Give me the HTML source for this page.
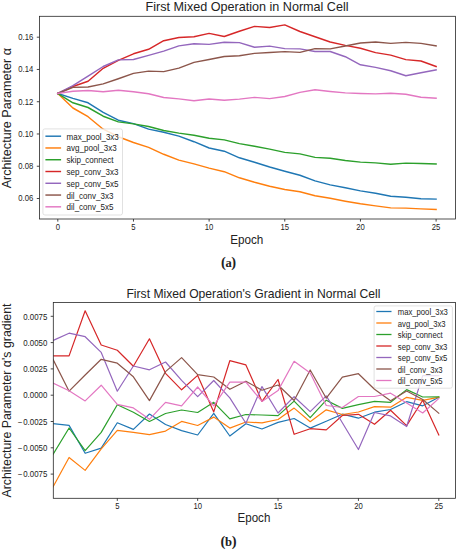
<!DOCTYPE html><html><head><meta charset="utf-8"><style>html,body{margin:0;padding:0;background:#fff;width:460px;height:550px;overflow:hidden}svg{display:block}text{font-family:"Liberation Sans",sans-serif;fill:#222}</style></head><body>
<svg width="460" height="550" viewBox="0 0 460 550">
<rect width="460" height="550" fill="#fff"/>
<defs><clipPath id="ca"><rect x="39.4" y="16.3" width="416.0" height="202.7"/></clipPath><clipPath id="cb"><rect x="53.3" y="302.4" width="402.09999999999997" height="195.90000000000003"/></clipPath></defs>
<g clip-path="url(#ca)">
<polyline points="57.80,93.50 72.93,98.40 88.06,102.80 103.20,112.30 118.33,120.20 133.46,123.60 148.59,129.10 163.72,132.30 178.86,136.10 193.99,141.70 209.12,148.00 224.25,151.20 239.38,157.80 254.52,162.20 269.65,167.00 284.78,171.20 299.91,175.30 315.04,180.90 330.18,184.90 345.31,187.80 360.44,190.90 375.57,193.20 390.70,196.30 405.84,197.30 420.97,198.70 436.10,199.10" fill="none" stroke="#1f77b4" stroke-width="1.45" stroke-linejoin="round" stroke-linecap="square"/>
<polyline points="57.80,93.50 72.93,108.00 88.06,116.70 103.20,129.20 118.33,136.70 133.46,142.50 148.59,147.40 163.72,154.30 178.86,160.10 193.99,163.90 209.12,168.10 224.25,171.70 239.38,177.80 254.52,182.20 269.65,186.20 284.78,189.50 299.91,191.70 315.04,195.70 330.18,198.30 345.31,201.20 360.44,203.80 375.57,205.90 390.70,207.90 405.84,208.10 420.97,208.90 436.10,209.50" fill="none" stroke="#ff7f0e" stroke-width="1.45" stroke-linejoin="round" stroke-linecap="square"/>
<polyline points="57.80,93.50 72.93,102.80 88.06,107.50 103.20,116.20 118.33,121.90 133.46,123.90 148.59,126.50 163.72,130.50 178.86,133.10 193.99,135.20 209.12,138.30 224.25,139.90 239.38,143.60 254.52,146.20 269.65,149.10 284.78,152.40 299.91,153.90 315.04,157.40 330.18,158.30 345.31,160.50 360.44,162.10 375.57,162.90 390.70,164.30 405.84,163.10 420.97,163.50 436.10,163.90" fill="none" stroke="#2ca02c" stroke-width="1.45" stroke-linejoin="round" stroke-linecap="square"/>
<polyline points="57.80,93.50 72.93,86.50 88.06,81.30 103.20,68.30 118.33,60.40 133.46,53.80 148.59,49.30 163.72,40.70 178.86,37.50 193.99,36.80 209.12,33.40 224.25,36.50 239.38,31.30 254.52,26.40 269.65,27.50 284.78,24.90 299.91,31.50 315.04,36.70 330.18,42.00 345.31,45.40 360.44,48.20 375.57,52.60 390.70,55.10 405.84,59.60 420.97,61.00 436.10,66.50" fill="none" stroke="#d62728" stroke-width="1.45" stroke-linejoin="round" stroke-linecap="square"/>
<polyline points="57.80,93.50 72.93,85.70 88.06,76.10 103.20,66.50 118.33,59.90 133.46,59.50 148.59,55.40 163.72,51.10 178.86,45.90 193.99,43.80 209.12,44.40 224.25,42.30 239.38,42.60 254.52,47.30 269.65,46.10 284.78,48.60 299.91,48.90 315.04,51.50 330.18,51.50 345.31,56.70 360.44,64.80 375.57,67.40 390.70,70.80 405.84,75.70 420.97,72.70 436.10,69.80" fill="none" stroke="#9467bd" stroke-width="1.45" stroke-linejoin="round" stroke-linecap="square"/>
<polyline points="57.80,93.50 72.93,87.40 88.06,87.00 103.20,83.90 118.33,78.70 133.46,73.40 148.59,71.10 163.72,71.60 178.86,68.10 193.99,62.40 209.12,59.50 224.25,56.50 239.38,55.70 254.52,53.40 269.65,52.50 284.78,51.60 299.91,52.40 315.04,48.60 330.18,48.90 345.31,46.00 360.44,43.00 375.57,42.00 390.70,43.40 405.84,42.40 420.97,43.40 436.10,45.90" fill="none" stroke="#8c564b" stroke-width="1.45" stroke-linejoin="round" stroke-linecap="square"/>
<polyline points="57.80,93.50 72.93,91.20 88.06,90.50 103.20,91.70 118.33,90.30 133.46,91.80 148.59,93.70 163.72,97.50 178.86,98.90 193.99,100.70 209.12,99.00 224.25,100.30 239.38,99.10 254.52,97.40 269.65,98.60 284.78,96.50 299.91,92.40 315.04,89.80 330.18,91.50 345.31,92.90 360.44,93.50 375.57,93.90 390.70,93.30 405.84,94.20 420.97,97.20 436.10,98.20" fill="none" stroke="#e377c2" stroke-width="1.45" stroke-linejoin="round" stroke-linecap="square"/>
</g>
<rect x="39.4" y="16.3" width="416.0" height="202.7" fill="none" stroke="#262626" stroke-width="0.8"/>
<line x1="57.80" y1="219.0" x2="57.80" y2="221.6" stroke="#262626" stroke-width="0.85"/>
<text transform="translate(57.80,229.80) scale(0.893,1)" font-size="8.62" text-anchor="middle">0</text>
<line x1="133.46" y1="219.0" x2="133.46" y2="221.6" stroke="#262626" stroke-width="0.85"/>
<text transform="translate(133.46,229.80) scale(0.893,1)" font-size="8.62" text-anchor="middle">5</text>
<line x1="209.12" y1="219.0" x2="209.12" y2="221.6" stroke="#262626" stroke-width="0.85"/>
<text transform="translate(209.12,229.80) scale(0.893,1)" font-size="8.62" text-anchor="middle">10</text>
<line x1="284.78" y1="219.0" x2="284.78" y2="221.6" stroke="#262626" stroke-width="0.85"/>
<text transform="translate(284.78,229.80) scale(0.893,1)" font-size="8.62" text-anchor="middle">15</text>
<line x1="360.44" y1="219.0" x2="360.44" y2="221.6" stroke="#262626" stroke-width="0.85"/>
<text transform="translate(360.44,229.80) scale(0.893,1)" font-size="8.62" text-anchor="middle">20</text>
<line x1="436.10" y1="219.0" x2="436.10" y2="221.6" stroke="#262626" stroke-width="0.85"/>
<text transform="translate(436.10,229.80) scale(0.893,1)" font-size="8.62" text-anchor="middle">25</text>
<line x1="36.8" y1="37.20" x2="39.4" y2="37.20" stroke="#262626" stroke-width="0.85"/>
<text transform="translate(33.30,40.10) scale(0.893,1)" font-size="8.62" text-anchor="end">0.16</text>
<line x1="36.8" y1="69.46" x2="39.4" y2="69.46" stroke="#262626" stroke-width="0.85"/>
<text transform="translate(33.30,72.36) scale(0.893,1)" font-size="8.62" text-anchor="end">0.14</text>
<line x1="36.8" y1="101.72" x2="39.4" y2="101.72" stroke="#262626" stroke-width="0.85"/>
<text transform="translate(33.30,104.62) scale(0.893,1)" font-size="8.62" text-anchor="end">0.12</text>
<line x1="36.8" y1="133.98" x2="39.4" y2="133.98" stroke="#262626" stroke-width="0.85"/>
<text transform="translate(33.30,136.88) scale(0.893,1)" font-size="8.62" text-anchor="end">0.10</text>
<line x1="36.8" y1="166.24" x2="39.4" y2="166.24" stroke="#262626" stroke-width="0.85"/>
<text transform="translate(33.30,169.14) scale(0.893,1)" font-size="8.62" text-anchor="end">0.08</text>
<line x1="36.8" y1="198.50" x2="39.4" y2="198.50" stroke="#262626" stroke-width="0.85"/>
<text transform="translate(33.30,201.40) scale(0.893,1)" font-size="8.62" text-anchor="end">0.06</text>
<text x="247.1" y="11.1" font-size="12.6" text-anchor="middle">First Mixed Operation in Normal Cell</text>
<text transform="translate(11.4,118.2) rotate(-90)" font-size="12.6" text-anchor="middle">Architecture Parameter α</text>
<text transform="translate(246.70,243.50) scale(0.9,1)" font-size="13.0" text-anchor="middle">Epoch</text>
<text x="228.6" y="266.9" font-size="12.5" text-anchor="middle" style="font-family:'Liberation Serif',serif;font-weight:bold"><tspan font-size="14.5">(</tspan><tspan dx="-0.4">a</tspan><tspan font-size="14.5" dx="-0.4">)</tspan></text>
<rect x="42.9" y="128.9" width="79.6" height="86.1" rx="2" ry="2" fill="#fff" fill-opacity="0.8" stroke="#d9d9d9" stroke-width="0.8"/>
<line x1="45.4" y1="136.20" x2="61.1" y2="136.20" stroke="#1f77b4" stroke-width="1.45"/>
<text transform="translate(66.60,139.70) scale(0.97,1)" font-size="8.3">max_pool_3x3</text>
<line x1="45.4" y1="147.97" x2="61.1" y2="147.97" stroke="#ff7f0e" stroke-width="1.45"/>
<text transform="translate(66.60,151.47) scale(0.97,1)" font-size="8.3">avg_pool_3x3</text>
<line x1="45.4" y1="159.74" x2="61.1" y2="159.74" stroke="#2ca02c" stroke-width="1.45"/>
<text transform="translate(66.60,163.24) scale(0.97,1)" font-size="8.3">skip_connect</text>
<line x1="45.4" y1="171.51" x2="61.1" y2="171.51" stroke="#d62728" stroke-width="1.45"/>
<text transform="translate(66.60,175.01) scale(0.97,1)" font-size="8.3">sep_conv_3x3</text>
<line x1="45.4" y1="183.28" x2="61.1" y2="183.28" stroke="#9467bd" stroke-width="1.45"/>
<text transform="translate(66.60,186.78) scale(0.97,1)" font-size="8.3">sep_conv_5x5</text>
<line x1="45.4" y1="195.05" x2="61.1" y2="195.05" stroke="#8c564b" stroke-width="1.45"/>
<text transform="translate(66.60,198.55) scale(0.97,1)" font-size="8.3">dil_conv_3x3</text>
<line x1="45.4" y1="206.82" x2="61.1" y2="206.82" stroke="#e377c2" stroke-width="1.45"/>
<text transform="translate(66.60,210.32) scale(0.97,1)" font-size="8.3">dil_conv_5x5</text>
<g clip-path="url(#cb)">
<polyline points="53.00,423.60 69.08,425.40 85.15,453.30 101.22,448.10 117.30,422.80 133.38,429.40 149.45,414.00 165.52,424.50 181.60,430.60 197.67,435.00 213.75,413.30 229.82,436.00 245.90,423.80 261.98,429.00 278.05,422.40 294.12,418.50 310.20,428.10 326.27,421.20 342.35,414.20 358.43,418.20 374.50,412.20 390.57,409.50 406.65,401.70 422.72,405.80 438.80,397.30" fill="none" stroke="#1f77b4" stroke-width="1.2" stroke-linejoin="round" stroke-linecap="square"/>
<polyline points="53.00,487.00 69.08,457.50 85.15,470.40 101.22,448.90 117.30,430.30 133.38,432.40 149.45,434.60 165.52,431.10 181.60,421.40 197.67,425.50 213.75,417.10 229.82,428.10 245.90,422.00 261.98,422.90 278.05,419.50 294.12,408.10 310.20,421.70 326.27,409.80 342.35,414.50 358.43,412.00 374.50,406.60 390.57,407.20 406.65,397.30 422.72,400.30 438.80,397.30" fill="none" stroke="#ff7f0e" stroke-width="1.2" stroke-linejoin="round" stroke-linecap="square"/>
<polyline points="53.00,454.50 69.08,428.00 85.15,450.70 101.22,432.40 117.30,404.80 133.38,412.30 149.45,421.50 165.52,413.50 181.60,410.00 197.67,412.50 213.75,402.30 229.82,418.90 245.90,414.50 261.98,415.00 278.05,415.60 294.12,401.10 310.20,417.70 326.27,400.20 342.35,408.40 358.43,404.70 374.50,401.40 390.57,402.30 406.65,389.60 422.72,397.00 438.80,396.80" fill="none" stroke="#2ca02c" stroke-width="1.2" stroke-linejoin="round" stroke-linecap="square"/>
<polyline points="53.00,355.90 69.08,355.90 85.15,310.80 101.22,345.00 117.30,350.30 133.38,366.30 149.45,338.80 165.52,373.30 181.60,389.80 197.67,375.40 213.75,411.90 229.82,360.70 245.90,364.90 261.98,401.40 278.05,379.50 294.12,434.30 310.20,428.70 326.27,429.90 342.35,415.50 358.43,414.30 374.50,424.30 390.57,410.30 406.65,425.60 422.72,400.30 438.80,435.00" fill="none" stroke="#d62728" stroke-width="1.2" stroke-linejoin="round" stroke-linecap="square"/>
<polyline points="53.00,340.50 69.08,333.20 85.15,336.70 101.22,352.40 117.30,391.20 133.38,366.00 149.45,369.80 165.52,362.00 181.60,380.30 197.67,396.70 213.75,380.50 229.82,397.90 245.90,423.20 261.98,386.60 278.05,413.00 294.12,396.70 310.20,411.60 326.27,395.90 342.35,422.70 358.43,449.50 374.50,412.50 390.57,415.90 406.65,426.50 422.72,375.60 438.80,375.60" fill="none" stroke="#9467bd" stroke-width="1.2" stroke-linejoin="round" stroke-linecap="square"/>
<polyline points="53.00,359.30 69.08,391.20 85.15,375.00 101.22,359.30 117.30,363.20 133.38,376.80 149.45,400.60 165.52,371.60 181.60,357.60 197.67,374.70 213.75,377.00 229.82,389.30 245.90,381.20 261.98,390.20 278.05,385.00 294.12,400.50 310.20,370.00 326.27,398.20 342.35,377.10 358.43,373.70 374.50,389.30 390.57,400.80 406.65,391.00 422.72,399.50 438.80,413.20" fill="none" stroke="#8c564b" stroke-width="1.2" stroke-linejoin="round" stroke-linecap="square"/>
<polyline points="53.00,383.00 69.08,390.80 85.15,400.90 101.22,385.20 117.30,404.40 133.38,407.90 149.45,419.30 165.52,402.30 181.60,405.80 197.67,387.00 213.75,405.80 229.82,382.20 245.90,382.20 261.98,401.40 278.05,390.60 294.12,361.30 310.20,373.00 326.27,405.50 342.35,407.50 358.43,396.50 374.50,396.50 390.57,393.20 406.65,403.00 422.72,413.00 438.80,398.50" fill="none" stroke="#e377c2" stroke-width="1.2" stroke-linejoin="round" stroke-linecap="square"/>
</g>
<rect x="53.3" y="302.4" width="402.09999999999997" height="195.90000000000003" fill="none" stroke="#262626" stroke-width="0.8"/>
<line x1="117.30" y1="498.3" x2="117.30" y2="500.90000000000003" stroke="#262626" stroke-width="0.85"/>
<text transform="translate(117.30,509.20) scale(0.893,1)" font-size="8.62" text-anchor="middle">5</text>
<line x1="197.67" y1="498.3" x2="197.67" y2="500.90000000000003" stroke="#262626" stroke-width="0.85"/>
<text transform="translate(197.67,509.20) scale(0.893,1)" font-size="8.62" text-anchor="middle">10</text>
<line x1="278.05" y1="498.3" x2="278.05" y2="500.90000000000003" stroke="#262626" stroke-width="0.85"/>
<text transform="translate(278.05,509.20) scale(0.893,1)" font-size="8.62" text-anchor="middle">15</text>
<line x1="358.43" y1="498.3" x2="358.43" y2="500.90000000000003" stroke="#262626" stroke-width="0.85"/>
<text transform="translate(358.43,509.20) scale(0.893,1)" font-size="8.62" text-anchor="middle">20</text>
<line x1="438.80" y1="498.3" x2="438.80" y2="500.90000000000003" stroke="#262626" stroke-width="0.85"/>
<text transform="translate(438.80,509.20) scale(0.893,1)" font-size="8.62" text-anchor="middle">25</text>
<line x1="50.699999999999996" y1="316.30" x2="53.3" y2="316.30" stroke="#262626" stroke-width="0.85"/>
<text transform="translate(47.30,319.50) scale(0.893,1)" font-size="8.85" text-anchor="end">0.0075</text>
<line x1="50.699999999999996" y1="342.60" x2="53.3" y2="342.60" stroke="#262626" stroke-width="0.85"/>
<text transform="translate(47.30,345.80) scale(0.893,1)" font-size="8.85" text-anchor="end">0.0050</text>
<line x1="50.699999999999996" y1="368.90" x2="53.3" y2="368.90" stroke="#262626" stroke-width="0.85"/>
<text transform="translate(47.30,372.10) scale(0.893,1)" font-size="8.85" text-anchor="end">0.0025</text>
<line x1="50.699999999999996" y1="395.20" x2="53.3" y2="395.20" stroke="#262626" stroke-width="0.85"/>
<text transform="translate(47.30,398.40) scale(0.893,1)" font-size="8.85" text-anchor="end">0.0000</text>
<line x1="50.699999999999996" y1="421.50" x2="53.3" y2="421.50" stroke="#262626" stroke-width="0.85"/>
<text transform="translate(47.30,424.70) scale(0.893,1)" font-size="8.85" text-anchor="end">−<tspan dx="1.3">0.0025</tspan></text>
<line x1="50.699999999999996" y1="447.80" x2="53.3" y2="447.80" stroke="#262626" stroke-width="0.85"/>
<text transform="translate(47.30,451.00) scale(0.893,1)" font-size="8.85" text-anchor="end">−<tspan dx="1.3">0.0050</tspan></text>
<line x1="50.699999999999996" y1="474.10" x2="53.3" y2="474.10" stroke="#262626" stroke-width="0.85"/>
<text transform="translate(47.30,477.30) scale(0.893,1)" font-size="8.85" text-anchor="end">−<tspan dx="1.3">0.0075</tspan></text>
<text x="253.4" y="297.7" font-size="12.15" text-anchor="middle">First Mixed Operation's Gradient in Normal Cell</text>
<text transform="translate(10.9,400.5) rotate(-90)" font-size="12.35" text-anchor="middle">Architecture Parameter α's gradient</text>
<text transform="translate(253.90,522.00) scale(0.92,1)" font-size="12.6" text-anchor="middle">Epoch</text>
<text x="228.45" y="545.5" font-size="12.6" text-anchor="middle" style="font-family:'Liberation Serif',serif;font-weight:bold"><tspan font-size="14.5">(</tspan><tspan dx="-0.3">b</tspan><tspan font-size="14.5" dx="-0.3">)</tspan></text>
<rect x="374.1" y="305.9" width="78.3" height="82.3" rx="2" ry="2" fill="#fff" fill-opacity="0.8" stroke="#d9d9d9" stroke-width="0.8"/>
<line x1="376.3" y1="311.50" x2="391.5" y2="311.50" stroke="#1f77b4" stroke-width="1.3"/>
<text transform="translate(397.80,315.00) scale(0.945,1)" font-size="8.15">max_pool_3x3</text>
<line x1="376.3" y1="323.00" x2="391.5" y2="323.00" stroke="#ff7f0e" stroke-width="1.3"/>
<text transform="translate(397.80,326.50) scale(0.945,1)" font-size="8.15">avg_pool_3x3</text>
<line x1="376.3" y1="334.50" x2="391.5" y2="334.50" stroke="#2ca02c" stroke-width="1.3"/>
<text transform="translate(397.80,338.00) scale(0.945,1)" font-size="8.15">skip_connect</text>
<line x1="376.3" y1="346.00" x2="391.5" y2="346.00" stroke="#d62728" stroke-width="1.3"/>
<text transform="translate(397.80,349.50) scale(0.945,1)" font-size="8.15">sep_conv_3x3</text>
<line x1="376.3" y1="357.50" x2="391.5" y2="357.50" stroke="#9467bd" stroke-width="1.3"/>
<text transform="translate(397.80,361.00) scale(0.945,1)" font-size="8.15">sep_conv_5x5</text>
<line x1="376.3" y1="369.00" x2="391.5" y2="369.00" stroke="#8c564b" stroke-width="1.3"/>
<text transform="translate(397.80,372.50) scale(0.945,1)" font-size="8.15">dil_conv_3x3</text>
<line x1="376.3" y1="380.50" x2="391.5" y2="380.50" stroke="#e377c2" stroke-width="1.3"/>
<text transform="translate(397.80,384.00) scale(0.945,1)" font-size="8.15">dil_conv_5x5</text>
</svg></body></html>
